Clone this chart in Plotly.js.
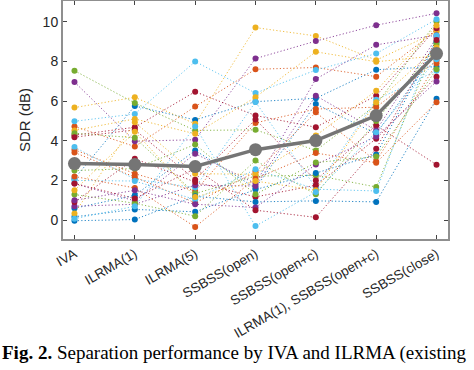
<!DOCTYPE html>
<html><head><meta charset="utf-8">
<script src="https://cdn.plot.ly/plotly-3.0.1.min.js"></script>
<style>html,body{margin:0;padding:0;background:#fff;}#chart{width:474px;height:370px;}</style>
</head><body><div id="chart"></div>
<script>
// Categories (x tick labels)
const categories = ["IVA","ILRMA(1)","ILRMA(5)","SSBSS(open)","SSBSS(open+c)","ILRMA(1), SSBSS(open+c)","SSBSS(close)"];
// Per-condition SDR values (dB), 28 trials each, ordered by trial index
const sdrIVA = [2.09,4.72,5.67,6.96,7.53,4.98,4.28, 0.6,3.55,4.52,1.84,4.38,3.68,4.18, 0.17,3.41,0.33,0.70,1.29,2.0,0.92, -0.03,2.2,1.5,1.0,2.5,0.07,1.85];
const sdrILRMA1 = [5.75,3.71,6.19,3.98,5.9,5.35,4.68, 1.25,2.34,5.1,0.97,4.15,2.06,4.55, 0.54,2.17,4.93,0.8,0.85,1.97,3.09, 0.03,1.62,4.45,1.5,2.6,0.7,1.09];
const sdrILRMA5 = [5.05,5.72,4.85,4.05,4.52,7.99,6.47, 3.51,1.47,4.35,3.35,1.34,1.64,2.04, 0.42,0.87,2.34,1.76,0.2,1.04,1.92, 1.2,-0.34,1.17,0.8,3.81,4.72,2.6];
const sdrOpen = [5.97,7.6,9.7,8.14,4.55,6.4,5.27, 1.62,4.9,6.19,1.84,2.22,5.95,5.07, 1.54,2.42,2.31,1.72,3.0,2.56,1.17, 0.92,2.09,1.97,0.64,1.3,-0.3,0.5];
const sdrOpenC = [6.14,7.69,9.28,9.02,3.51,7.56,4.68, 5.85,5.6,8.48,7.11,2.26,1.64,2.0, 2.37,5.43,4.26,6.27,1.3,1.56,1.76, 0.97,3.38,1.5,2.8,2.9,1.42,0.14];
const sdrILRMA1OpenC = [7.58,7.23,8.06,9.82,5.8,8.39,6.27, 4.35,5.69,7.98,8.83,1.67,6.06,4.77, 3.31,2.96,6.52,4.52,5.0,1.47,4.1, 0.92,2.89,5.94,4.21,3.2,4.43,3.6];
const sdrClose = [7.73,9.57,9.48,10.42,10.0,10.12,9.67, 8.5,8.03,8.28,9.32,8.95,7.53,2.79, 9.0,7.89,9.8,9.2,8.83,9.3,7.23, 6.11,5.94,8.7,6.99,7.6,8.1,9.07];
// Mean across trials
const sdrMean = [2.85,2.8,2.7,3.55,4.01,5.27,8.39];

const palette = ["#0072BD","#D95319","#EDB120","#7E2F8E","#77AC30","#4DBEEE","#A2142F"];
const columns = [sdrIVA,sdrILRMA1,sdrILRMA5,sdrOpen,sdrOpenC,sdrILRMA1OpenC,sdrClose];
const xIdx = categories.map((_,i)=>i);

const traces = [];
for (let t = 0; t < sdrIVA.length; t++) {
  const c = palette[t % palette.length];
  traces.push({
    x: xIdx, y: columns.map(col => col[t]),
    type: "scatter", mode: "lines",
    line: {color: c, width: 1, dash: "1.2px,2.2px"},
    opacity: 0.85,
    showlegend: false, hoverinfo: "skip"
  });
}
for (let t = 0; t < sdrIVA.length; t++) {
  const c = palette[t % palette.length];
  traces.push({
    x: xIdx, y: columns.map(col => col[t]),
    type: "scatter", mode: "markers",
    marker: {color: c, size: 6},
    showlegend: false, hoverinfo: "skip"
  });
}
traces.push({
  x: xIdx, y: sdrMean, type: "scatter", mode: "lines+markers",
  line: {color: "#757575", width: 3.5},
  marker: {color: "#757575", size: 13},
  showlegend: false
});

const plotH = 370 - 1 - 131, plotW = 474 - 63 - 26;
const layout = {
  width: 474, height: 370,
  margin: {l: 63, r: 26, t: 1, b: 131},
  paper_bgcolor: "#fff", plot_bgcolor: "#fff",
  font: {family: "Liberation Sans, Arial, sans-serif", size: 14, color: "#262626"},
  xaxis: {
    range: [-0.19, 6.19], tickvals: xIdx, ticktext: categories,
    tickangle: -30, ticks: "inside", ticklen: 4, tickcolor: "#444",
    showline: true, linecolor: "#8f8f8f", linewidth: 2, mirror: "ticks",
    showgrid: false, zeroline: false, tickfont: {size: 13.5}
  },
  yaxis: {
    range: [-0.95, 11.04], tickvals: [0,2,4,6,8,10],
    ticks: "inside", ticklen: 4, tickcolor: "#444",
    showline: true, linecolor: "#8f8f8f", linewidth: 2, mirror: "ticks",
    showgrid: false, zeroline: false, tickfont: {size: 14},
    title: {text: "SDR (dB)", font: {size: 15}, standoff: 8}
  },
  annotations: [{
    xref: "paper", yref: "paper",
    x: -63/plotW, y: 1 - (340 - 1) / plotH,
    xanchor: "left", yanchor: "top", showarrow: false,
    text: "<b>Fig. 2.</b> Separation performance by IVA and ILRMA (existing",
    font: {family: "Liberation Serif, Times New Roman, serif", size: 19, color: "#000"}
  }]
};

Plotly.newPlot("chart", traces, layout, {staticPlot: true, displayModeBar: false});
</script>
</body></html>
